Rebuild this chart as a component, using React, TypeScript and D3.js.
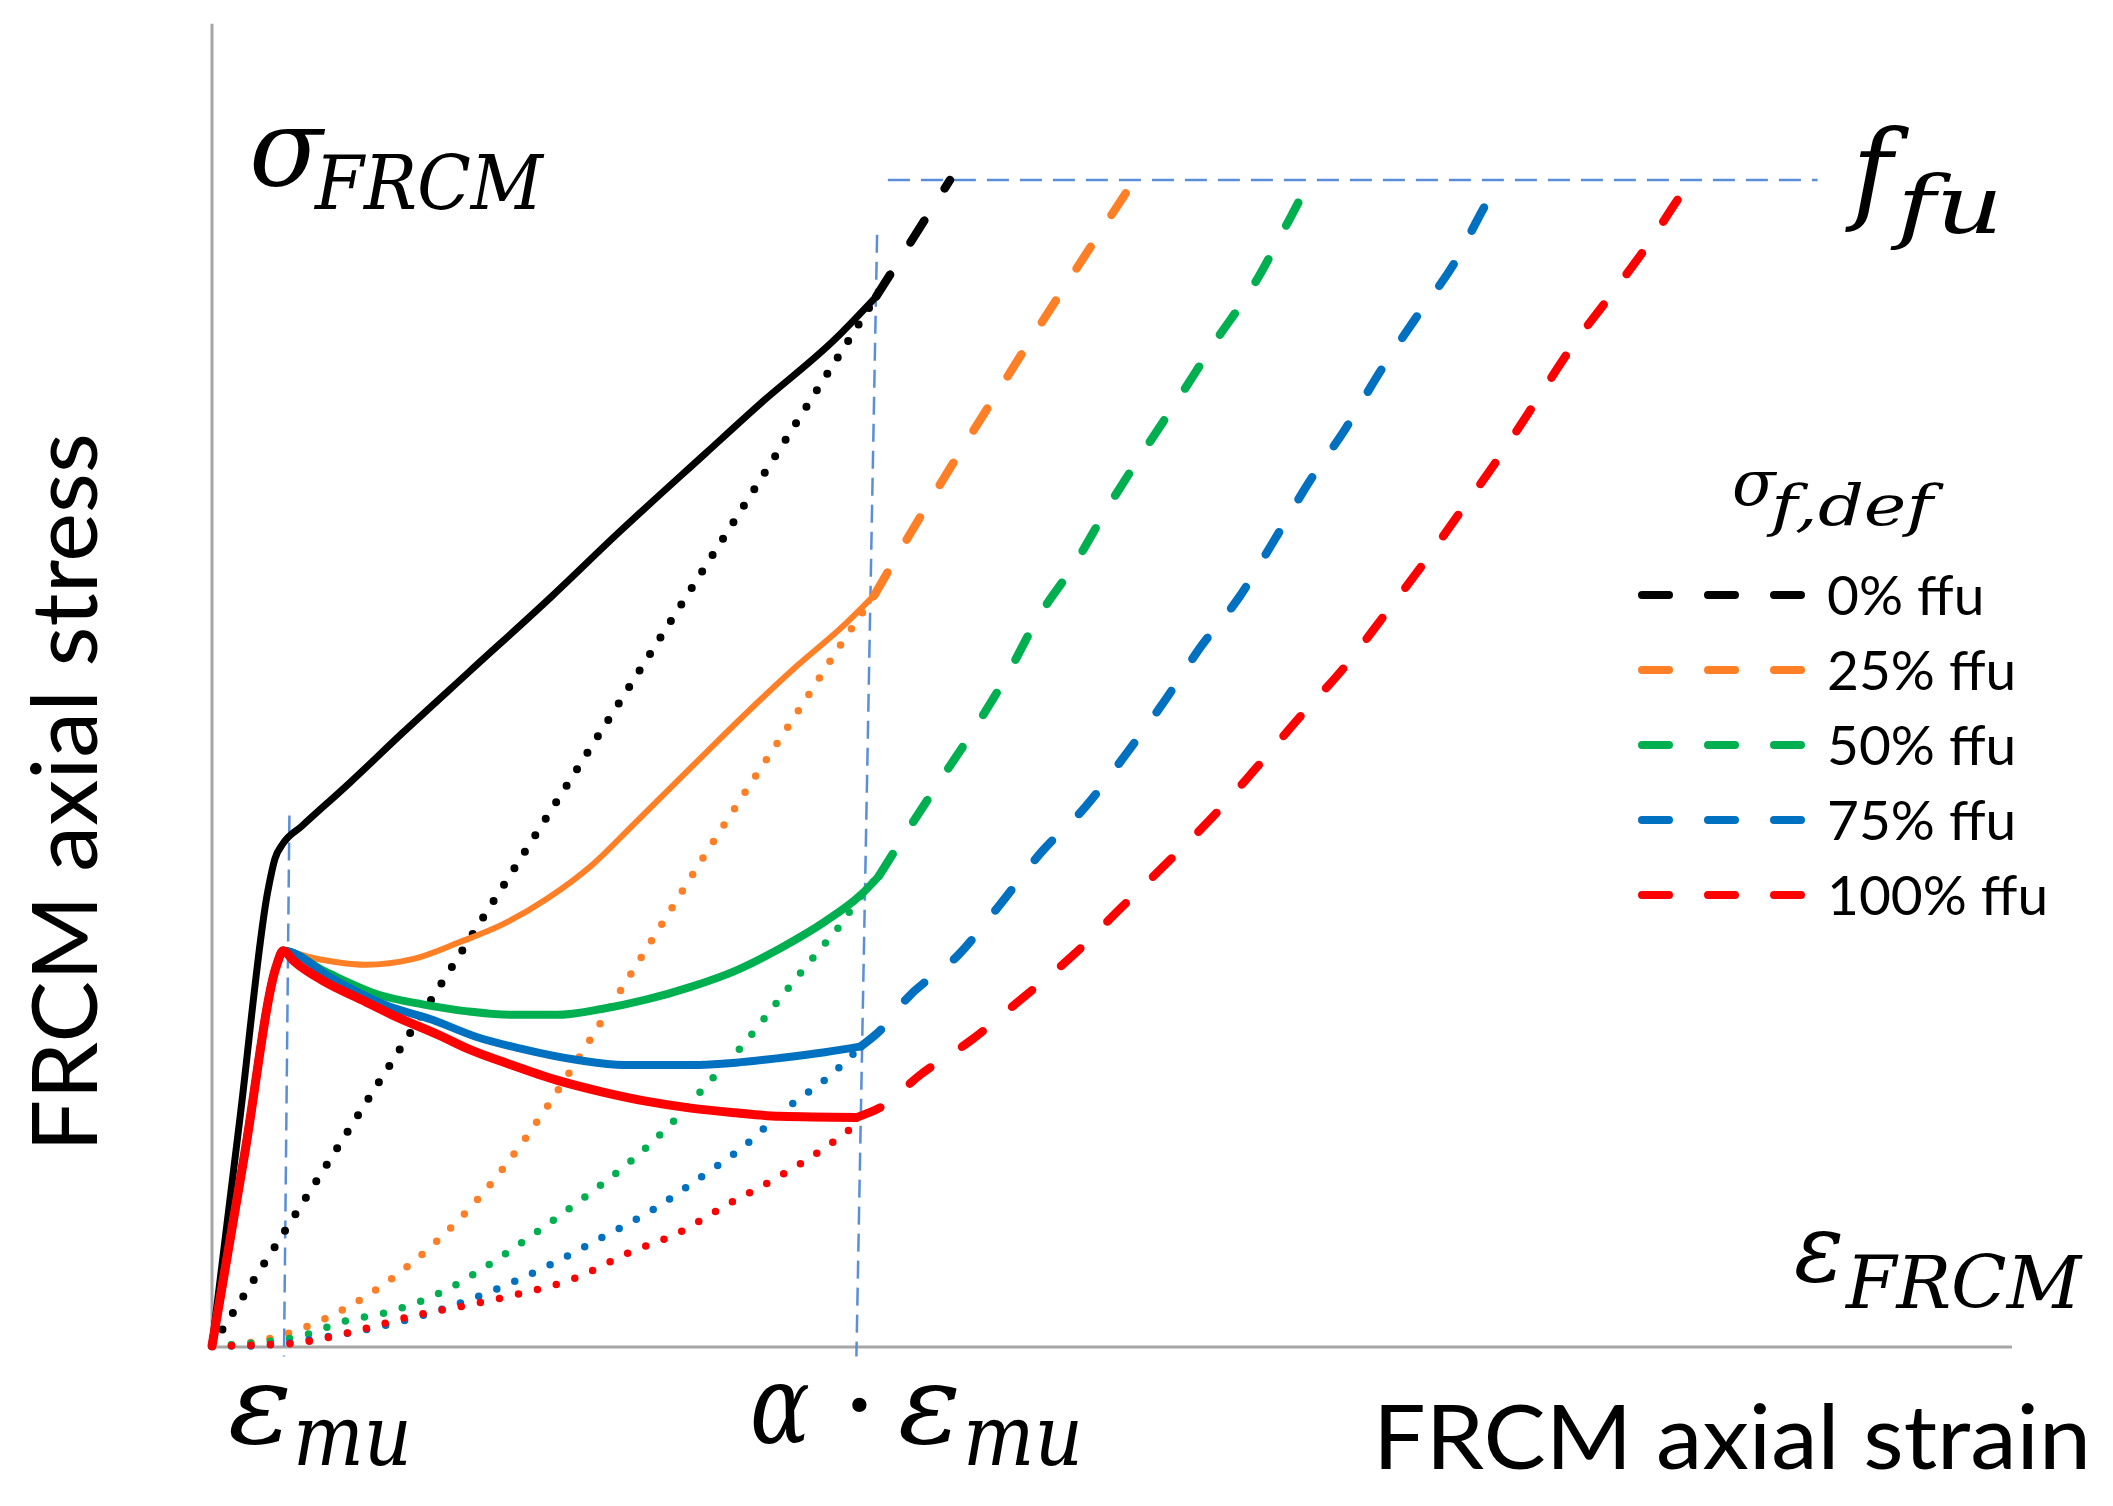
import React from "react";
import * as d3 from "d3";

type Pt = [number, number];

// strain in arbitrary units (0..20), stress normalised by ffu (1 = ffu)
const levels = ["0% ffu", "25% ffu", "50% ffu", "75% ffu", "100% ffu"];
const colors = ["#000000", "#ff7f27", "#00b050", "#0070c0", "#ff0000"];

// shared linear rise up to the mortar peak (eps_mu)
const rise: Pt[] = [[0, 0], [0.36, 0.1635], [0.72, 0.327], [0.79, 0.339]];

// solid branches (0 -> alpha * eps_mu)
const solid0: Pt[] = [
  [0, 0], [0.31, 0.195], [0.62, 0.39], [0.7, 0.418], [0.79, 0.431], [1.0, 0.446],
  [1.53, 0.483], [2.12, 0.526], [2.84, 0.577], [3.79, 0.644], [4.51, 0.697],
  [5.49, 0.766], [6.09, 0.808], [6.93, 0.864], [7.38, 0.9],
];
const solid25: Pt[] = [
  ...rise, [1.11, 0.333], [1.7, 0.327], [2.24, 0.332], [2.74, 0.346], [3.24, 0.362],
  [3.73, 0.384], [4.23, 0.413], [4.68, 0.447], [5.49, 0.509], [6.09, 0.554],
  [6.51, 0.584], [7.02, 0.618], [7.36, 0.644],
];
const solid50: Pt[] = [
  ...rise, [1.26, 0.321], [1.86, 0.301], [2.34, 0.293], [2.84, 0.287], [3.33, 0.284],
  [3.83, 0.284], [4.33, 0.289], [4.82, 0.297], [5.32, 0.308], [5.82, 0.322],
  [6.31, 0.341], [6.81, 0.364], [7.21, 0.387], [7.41, 0.403],
];
const solid75: Pt[] = [
  ...rise, [1.36, 0.314], [1.94, 0.292], [2.44, 0.28], [2.94, 0.265], [3.43, 0.255],
  [4.08, 0.245], [4.58, 0.241], [5.32, 0.241], [5.82, 0.243], [6.31, 0.247],
  [6.81, 0.252], [7.21, 0.257],
];
const solid100: Pt[] = [
  ...rise, [0.91, 0.33], [1.26, 0.312], [1.66, 0.297], [2.0, 0.284], [2.54, 0.266],
  [2.84, 0.255], [3.33, 0.241], [3.83, 0.228], [4.33, 0.218], [4.82, 0.21],
  [5.32, 0.204], [5.82, 0.2], [6.31, 0.197], [7.16, 0.196],
];

// dashed branches (alpha * eps_mu -> ffu)
const dash0: Pt[] = [[7.38, 0.9], [8.2, 1.0]];
const dash25: Pt[] = [[7.36, 0.644], [7.6, 0.676], [8.81, 0.828], [9.96, 0.966], [10.25, 1.0]];
const dash50: Pt[] = [
  [7.41, 0.403], [7.67, 0.435], [8.04, 0.479], [8.46, 0.528], [8.81, 0.572], [9.19, 0.626],
  [9.58, 0.67], [9.96, 0.72], [10.34, 0.766], [10.76, 0.815], [11.17, 0.864],
  [11.56, 0.908], [11.97, 0.966], [12.2, 1.0],
];
const dash75: Pt[] = [
  [7.21, 0.257], [7.43, 0.271], [7.72, 0.298], [8.3, 0.336], [8.74, 0.377], [9.22, 0.424],
  [9.7, 0.462], [10.14, 0.506], [10.6, 0.555], [10.98, 0.599], [11.42, 0.643],
  [11.81, 0.692], [12.19, 0.741], [12.58, 0.785], [12.99, 0.837], [13.37, 0.881],
  [13.79, 0.927], [14.2, 0.985], [14.36, 1.003],
];
const dash100: Pt[] = [
  [7.16, 0.196], [7.46, 0.206], [7.86, 0.232], [8.43, 0.262], [9.0, 0.298], [9.58, 0.336],
  [10.09, 0.375], [10.66, 0.418], [11.17, 0.458], [11.56, 0.492], [12.07, 0.538],
  [12.58, 0.582], [13.02, 0.626], [13.47, 0.672], [13.84, 0.712], [14.3, 0.762],
  [14.71, 0.81], [15.12, 0.858], [15.57, 0.904], [15.96, 0.945], [16.4, 0.995], [16.55, 1.008],
];

// dotted branches (0 -> alpha * eps_mu)
const dot0: Pt[] = [[0, 0], [7.38, 0.9]];
const dot25: Pt[] = [
  [0, 0], [0.5, 0.004], [1.0, 0.015], [1.5, 0.033], [2.0, 0.058], [2.5, 0.09], [3.0, 0.13],
  [3.5, 0.18], [4.0, 0.238], [4.5, 0.3], [5.0, 0.362], [5.5, 0.424], [6.0, 0.484],
  [6.5, 0.543], [7.0, 0.603], [7.36, 0.644],
];
const dot50: Pt[] = [
  [0, 0], [0.37, 0.002], [1.01, 0.009], [1.46, 0.021], [2.0, 0.03], [2.6, 0.048],
  [3.14, 0.073], [3.63, 0.099], [4.13, 0.127], [4.63, 0.157], [5.08, 0.189], [5.52, 0.226],
  [5.92, 0.26], [6.31, 0.298], [6.71, 0.336], [7.01, 0.364], [7.16, 0.381], [7.41, 0.403],
];
const dot75: Pt[] = [
  [0, 0], [0.37, 0.0], [1.36, 0.009], [2.24, 0.024], [3.04, 0.045], [3.79, 0.071],
  [4.33, 0.093], [4.88, 0.116], [5.38, 0.142], [5.92, 0.172], [6.37, 0.203], [6.87, 0.232],
  [7.21, 0.257],
];
const dot100: Pt[] = [
  [0, 0], [0.86, 0.002], [1.6, 0.013], [2.24, 0.026], [2.84, 0.035], [3.43, 0.045],
  [4.03, 0.058], [4.63, 0.08], [5.18, 0.097], [5.72, 0.121], [6.27, 0.144], [6.81, 0.17],
  [7.16, 0.19],
];

const solids = [solid0, solid25, solid50, solid75, solid100];
const dashes = [dash0, dash25, dash50, dash75, dash100];
const dots = [dot0, dot25, dot50, dot75, dot100];
const solidWidths = [7, 6, 8, 8, 9];

// thin blue guide lines
const ffuLine: Pt[] = [[7.51, 1.0], [17.84, 1.0]];
const epsMuLine: Pt[] = [[0.86, 0.455], [0.8, -0.009]];
const alphaLine: Pt[] = [[7.39, 0.953], [7.16, -0.009]];

const W = 2113;
const H = 1506;
const mathFont = "'DejaVu Serif', serif";
const sansFont = "Lato, 'Noto Sans', sans-serif";

const App: React.FC = () => {
  const x = d3.scaleLinear().domain([0, 20]).range([212, 2012]);
  const y = d3.scaleLinear().domain([0, 1]).range([1346, 180]);

  const curve = d3
    .line<Pt>()
    .x((d) => x(d[0]))
    .y((d) => y(d[1]))
    .curve(d3.curveMonotoneX);
  const straight = d3
    .line<Pt>()
    .x((d) => x(d[0]))
    .y((d) => y(d[1]));

  const guide = "#5b8ed8";

  return (
    <svg
      width={W}
      height={H}
      style={{ position: "absolute", left: 0, top: 0, display: "block", background: "#fff" }}
    >
      {/* axes */}
      <line x1={x(0)} x2={x(0)} y1={y(0) + 1} y2={y(1.134)} stroke="#a6a6a6" strokeWidth={3} />
      <line x1={x(0)} x2={x(20)} y1={y(0) + 1} y2={y(0) + 1} stroke="#a6a6a6" strokeWidth={3} />

      {/* guide lines */}
      <path d={straight(ffuLine)!} fill="none" stroke={guide} strokeWidth={2.5} strokeDasharray="22 11" />
      <path d={straight(epsMuLine)!} fill="none" stroke={guide} strokeWidth={2.5} strokeDasharray="18 9" />
      <path d={straight(alphaLine)!} fill="none" stroke={guide} strokeWidth={2.5} strokeDasharray="18 9" />

      {/* dotted */}
      {dots.map((d, i) => (
        <path
          key={"dot" + i}
          d={curve(d)!}
          fill="none"
          stroke={colors[i]}
          strokeWidth={i === 0 ? 8 : 7.5}
          strokeLinecap="round"
          strokeDasharray="0 19.5"
        />
      ))}

      {/* dashed */}
      {dashes.map((d, i) => (
        <path
          key={"dash" + i}
          d={curve(d)!}
          fill="none"
          stroke={colors[i]}
          strokeWidth={8.5}
          strokeLinecap="round"
          strokeDasharray="26 38"
        />
      ))}

      {/* solid */}
      {solids.map((d, i) => (
        <path
          key={"solid" + i}
          d={curve(d)!}
          fill="none"
          stroke={colors[i]}
          strokeWidth={solidWidths[i]}
          strokeLinejoin="round"
          strokeLinecap="round"
        />
      ))}

      {/* math labels */}
      <g fontFamily={mathFont} fontStyle="italic" fill="#000">
        <text>
          <tspan x={249} y={185} fontSize={108}>σ</tspan>
          <tspan x={315} y={209} fontSize={75} textLength={228} lengthAdjust="spacingAndGlyphs">FRCM</tspan>
        </text>

        <text>
          <tspan x={1852} y={209} fontSize={110}>f</tspan>
          <tspan x={1897} y={233} fontSize={80} textLength={106} lengthAdjust="spacingAndGlyphs">fu</tspan>
        </text>

        <text>
          <tspan x={1794} y={1281} fontSize={96} textLength={50} lengthAdjust="spacingAndGlyphs">ε</tspan>
          <tspan x={1846} y={1308} fontSize={73} textLength={235} lengthAdjust="spacingAndGlyphs">FRCM</tspan>
        </text>

        <text>
          <tspan x={228} y={1443} fontSize={110} textLength={64} lengthAdjust="spacingAndGlyphs">ε</tspan>
          <tspan x={293} y={1465} fontSize={84} textLength={119} lengthAdjust="spacingAndGlyphs">mu</tspan>
        </text>

        <text>
          <tspan x={750} y={1443} fontSize={110} textLength={60} lengthAdjust="spacingAndGlyphs">α</tspan>
          <tspan x={842} y={1443} fontSize={110} fontStyle="normal">·</tspan>
          <tspan x={898} y={1443} fontSize={110} textLength={63} lengthAdjust="spacingAndGlyphs">ε</tspan>
          <tspan x={963} y={1465} fontSize={84} textLength={120} lengthAdjust="spacingAndGlyphs">mu</tspan>
        </text>

        <text>
          <tspan x={1732} y={505} fontSize={64}>σ</tspan>
          <tspan x={1771} y={525} fontSize={56} textLength={162} lengthAdjust="spacingAndGlyphs">f,def</tspan>
        </text>
      </g>

      {/* legend */}
      {levels.map((label, i) => {
        const ly = 595 + i * 75;
        return (
          <g key={label}>
            <line
              x1={1642}
              x2={1801}
              y1={ly}
              y2={ly}
              stroke={colors[i]}
              strokeWidth={8}
              strokeLinecap="round"
              strokeDasharray="27 39"
            />
            <text x={1827} y={ly + 20} fontFamily={sansFont} fontSize={55} fill="#000">
              {label}
            </text>
          </g>
        );
      })}

      {/* axis titles */}
      <text
        x={1373}
        y={1469}
        fontFamily={sansFont}
        fontSize={89}
        textLength={718}
        lengthAdjust="spacingAndGlyphs"
        fill="#000"
      >
        FRCM axial strain
      </text>
      <text
        transform="translate(97,1152) rotate(-90)"
        fontFamily={sansFont}
        fontSize={92}
        textLength={719}
        lengthAdjust="spacingAndGlyphs"
        fill="#000"
      >
        FRCM axial stress
      </text>
    </svg>
  );
};

export default App;
